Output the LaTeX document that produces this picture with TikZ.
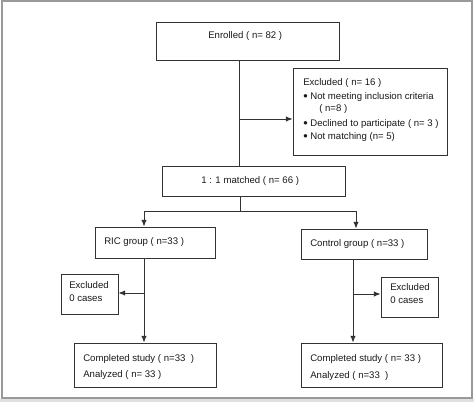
\documentclass[tikz,border=0pt]{standalone}
\usepackage{fontspec}
\setmainfont{Liberation Sans}
\usetikzlibrary{arrows.meta}
\newcommand{\bul}{\raisebox{-0.3pt}{\fontsize{9.5}{8}\selectfont •}\hspace{2pt}}
\begin{document}
\begin{tikzpicture}[x=0.75pt,y=-0.75pt,
  bx/.style 2 args={draw=black!80,line width=0.65pt,fill=white,inner sep=0pt,
     minimum width=#1*0.75pt,minimum height=#2*0.75pt},
  txt/.style={inner sep=0pt,anchor=base west,font=\fontsize{7.2}{8}\selectfont,text=black!90},
  ln/.style={draw=black!80,line width=0.65pt},
  arr/.style={ln,-{Latex[length=5pt,width=4pt]}}]
\useasboundingbox (0,0) rectangle (474,402);
\fill[white] (0,0) rectangle (474,402);
\fill[black!12] (0,399) rectangle (474,402);
\draw[black!40,line width=1.5pt] (2,1) rectangle (472,398);

% boxes
\node[bx={183}{38}] (enr) at (247.5,41) {};
\node[bx={154}{87}] (exc) at (370,111.5) {};
\node[bx={183}{30}] (mat) at (253.5,181) {};
\node[bx={120}{31}] (ric) at (155,242.5) {};
\node[bx={126}{30}] (ctl) at (364,244) {};
\node[bx={57}{40}] (exl) at (89.5,294) {};
\node[bx={57}{40}] (exr) at (409.5,297) {};
\node[bx={142}{44}] (cpl) at (145,365) {};
\node[bx={141}{44}] (cpr) at (371.5,365) {};

% texts
\node[txt] (t1) at (208,39) {Enrolled ( n= 82 )};
\node[txt] (t2) at (303,86) {Excluded ( n= 16 )};
\node[txt] (t3) at (303,100) {\bul Not meeting inclusion criteria};
\node[txt] (t4) at (319,112) {( n=8 )};
\node[txt] (t5) at (303,127) {\bul Declined to participate ( n= 3 )};
\node[txt] (t6) at (303,140) {\bul Not matching (n= 5)};
\node[txt] (t7) at (201,184) {1 : 1 matched ( n= 66 )};
\node[txt] (t8) at (104,245) {RIC group ( n=33 )};
\node[txt] (t9) at (310,247) {Control group ( n=33 )};
\node[txt] (t10) at (69,289) {Excluded};
\node[txt] (t11) at (69,301) {0 cases};
\node[txt] (t12) at (390,291) {Excluded};
\node[txt] (t13) at (390,303) {0 cases};
\node[txt] (t14) at (83,361) {Completed study ( n=33 \ )};
\node[txt] (t15) at (83,377) {Analyzed ( n= 33 )};
\node[txt] (t16) at (310,361) {Completed study ( n= 33 )};
\node[txt] (t17) at (310,378) {Analyzed ( n=33 \ )};

% connectors
\coordinate (j1) at (239,119);
\draw[ln] (enr.south -| j1) -- (mat.north -| j1);
\draw[arr] (j1) -- (exc.west |- j1);
\coordinate (j2) at (240,211);
\draw[ln] (mat.south -| j2) -- (j2);
\coordinate (la) at (144,211);
\coordinate (ra) at (356,211);
\draw[ln] (la) -- (ra);
\draw[arr] (la) -- (ric.north -| la);
\draw[arr] (ra) -- (ctl.north -| ra);
\coordinate (lb) at (144,293);
\draw[arr] (ric.south -| lb) -- (cpl.north -| lb);
\draw[arr] (lb) -- (exl.east |- lb);
\coordinate (rb) at (353,294);
\draw[arr] (ctl.south -| rb) -- (cpr.north -| rb);
\draw[arr] (rb) -- (exr.west |- rb);
\end{tikzpicture}
\end{document}
